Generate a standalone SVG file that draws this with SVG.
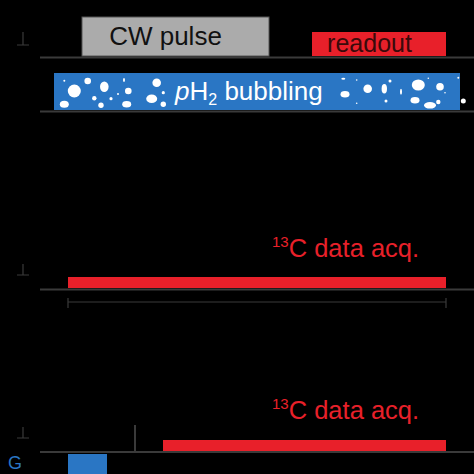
<svg xmlns="http://www.w3.org/2000/svg" width="474" height="474" viewBox="0 0 474 474">
<style>
.ln{stroke:#3a3a3a;stroke-width:2;fill:none}
.mk{stroke:#3a3a3a;stroke-width:1.2;fill:none}
.red{fill:#e8202a}
.blue{fill:#2a76c4}
.t{font-family:"Liberation Sans",Arial,sans-serif}
.b{fill:#fff}
</style>
<rect width="474" height="474" fill="#000"/>
<g id="connectors">
<path class="mk" d="M23 32V45M17 45H29"/>
<path class="ln" d="M40 57.5H474"/>
<path class="ln" d="M40 111.5H474"/>
<path class="mk" d="M23 264V275M17 275H29"/>
<path class="ln" d="M40 289.5H474"/>
<path class="mk" d="M68 302H446M68 298V308M446 298V308"/>
<path class="mk" d="M23 427V438M17 438H29"/>
<path class="ln" d="M40 452H474"/>
<path class="ln" d="M135 425V452"/>
</g>
<g id="cw-pulse">
<rect x="82" y="17" width="187" height="39" fill="#ababab" stroke="#555" stroke-width="1"/>
<text class="t" x="165.5" y="45" font-size="26" text-anchor="middle" fill="#111">CW pulse</text>
</g>
<g id="readout">
<rect class="red" x="312" y="32" width="134" height="24"/>
<text class="t" x="369.5" y="52" font-size="25" text-anchor="middle" fill="#3a0a0a">readout</text>
</g>
<g id="bubbling">
<rect class="blue" x="54" y="73" width="406" height="37"/>
<g class="b">
<circle cx="74.3" cy="91" r="6.5"/>
<ellipse cx="64.3" cy="104.3" rx="4.5" ry="3.5"/>
<circle cx="87.7" cy="81" r="3.3"/>
<circle cx="64.3" cy="80.7" r="1"/>
<circle cx="76.7" cy="86" r="0.8"/>
<circle cx="94.3" cy="98.3" r="2.2"/>
<ellipse cx="104.3" cy="86.7" rx="4.3" ry="5.3"/>
<circle cx="101" cy="105.3" r="2.7"/>
<circle cx="111" cy="98.7" r="1.6"/>
<ellipse cx="124" cy="80" rx="1" ry="2"/>
<circle cx="128.3" cy="91" r="3.3"/>
<ellipse cx="126.7" cy="104.3" rx="4.5" ry="3.3"/>
<circle cx="118" cy="94" r="1"/>
<circle cx="156.7" cy="82.7" r="4.3"/>
<ellipse cx="151.7" cy="98.7" rx="5.5" ry="4.3"/>
<circle cx="163.3" cy="92.7" r="1.6"/>
<circle cx="163.3" cy="104.3" r="2.7"/>
<ellipse cx="343.3" cy="78.7" rx="2" ry="1"/>
<ellipse cx="345" cy="94.3" rx="4.5" ry="3.3"/>
<circle cx="356.7" cy="80" r="0.8"/>
<circle cx="367.7" cy="88.7" r="4.3"/>
<circle cx="356.7" cy="103.3" r="0.8"/>
<ellipse cx="384.3" cy="88.7" rx="2.7" ry="4.8"/>
<circle cx="390" cy="81" r="1.5"/>
<circle cx="386" cy="101" r="1.5"/>
<ellipse cx="401" cy="91.7" rx="1" ry="3"/>
<ellipse cx="418.3" cy="85" rx="6.5" ry="5.5"/>
<circle cx="428.3" cy="78.3" r="0.8"/>
<ellipse cx="415" cy="100.3" rx="4.5" ry="3.3"/>
<ellipse cx="430" cy="105.3" rx="6" ry="3.3"/>
<circle cx="438.3" cy="102" r="2.2"/>
<circle cx="440" cy="86.7" r="3.8"/>
<circle cx="445" cy="92.7" r="0.8"/>
<circle cx="458.3" cy="77.7" r="1"/>
<circle cx="463.3" cy="101" r="2.5"/>
</g>
<text class="t" x="175" y="100" font-size="26" fill="#fff"><tspan font-style="italic">p</tspan>H<tspan font-size="16" dy="5">2</tspan><tspan dy="-5"> bubbling</tspan></text>
</g>
<g id="acq1">
<rect class="red" x="68" y="277" width="378" height="11"/>
<text class="t" x="272" y="256.5" font-size="25.5" fill="#e8202a"><tspan font-size="15" dy="-10">13</tspan><tspan dy="10">C data acq.</tspan></text>
</g>
<g id="acq2">
<rect class="red" x="163" y="440" width="283" height="11"/>
<text class="t" x="272" y="419" font-size="25.5" fill="#e8202a"><tspan font-size="15" dy="-10">13</tspan><tspan dy="10">C data acq.</tspan></text>
</g>
<g id="gradient">
<rect class="blue" x="68" y="454" width="39" height="22"/>
<text class="t" x="22" y="469" font-size="18" text-anchor="end" fill="#2a76c4">G</text>
</g>
</svg>
